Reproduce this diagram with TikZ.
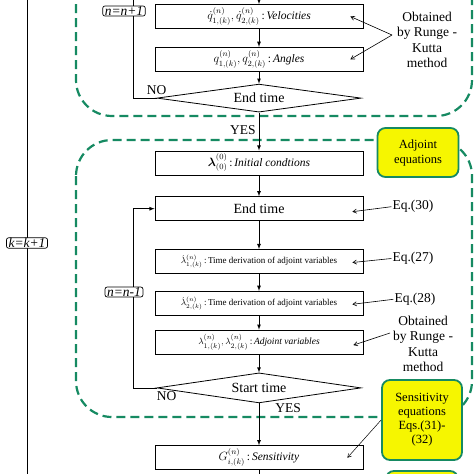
\documentclass[tikz,border=0pt]{standalone}
\usepackage{amsmath}
\usepackage{bm}
\usepackage{fontspec}
\setmainfont{Liberation Serif}
\usepackage{tikz}
\usetikzlibrary{shapes.geometric, arrows}
\usetikzlibrary{positioning}
\definecolor{phaseGreen}{RGB}{22,138,98}
\definecolor{eqYellow}{RGB}{246,246,0}
\tikzstyle{procBox} = [rectangle, minimum width=208pt, minimum height=24pt, text centered, draw=black, line width=0.8pt, inner sep=1pt, font=\fontsize{11.5}{13}\selectfont]
\tikzstyle{decision} = [diamond, aspect=7, minimum width=204pt, minimum height=28pt, text centered, draw=black, line width=0.8pt, inner sep=0pt, font=\fontsize{14}{16}\selectfont]
\tikzstyle{arrow} = [line width=0.8pt,->,>=latex]
\tikzstyle{noteArrow} = [line width=0.6pt,->,>=angle 60]
\tikzstyle{counterBox} = [
                rectangle,
                rounded corners=2pt,
                draw=black,
                fill=white,
                line width=0.7pt,
                inner xsep=2pt,
                inner ysep=0.5pt,
                font=\fontsize{13.5}{15}\selectfont\itshape
            ]
\tikzstyle{eqBox} = [rectangle, rounded corners=8pt, draw=phaseGreen, line width=1.8pt, fill=eqYellow, align=center, inner sep=2pt, font=\fontsize{12.5}{15}\selectfont]
\tikzstyle{phase} = [draw=phaseGreen, line width=2.2pt, dash pattern=on 9pt off 5pt, rounded corners=36pt]
\tikzstyle{remark} = [align=center, inner sep=1pt, font=\fontsize{13.5}{15.5}\selectfont]

\begin{document}
\begin{tikzpicture}[x=1pt, y=-1pt, node distance=20pt]
                            \useasboundingbox (0,0) rectangle (474,474);
                            \draw [phase] (76,-60) rectangle (472,116);
                            \draw [phase] (76,140) rectangle (472,417);
                            \node (vel) [procBox] at (259,16.5) {$\dot{q}^{(n)}_{1,(k)},\dot{q}^{(n)}_{2,(k)}$\,:\,\textit{Velocities}};
                            \node (ang) [procBox, below=18pt of vel] {$q^{(n)}_{1,(k)},q^{(n)}_{2,(k)}$\,:\,\textit{Angles}};
                            \node (dec1) [decision, below=12pt of ang] {End time};
                            \node (init) [procBox, below=38pt of dec1] {$\bm{\lambda}^{(0)}_{(0)}$\,:\,\textit{Initial condtions}};
                            \node (endBox) [procBox, below=21pt of init, font=\fontsize{14}{16}\selectfont] {End time};
                            \node (td1) [procBox, below=28pt of endBox, font=\fontsize{9}{11}\selectfont] {$\dot{\lambda}^{(n)}_{1,(k)}$\,:\,Time derivation of adjoint variables};
                            \node (td2) [procBox, below=17pt of td1, font=\fontsize{9}{11}\selectfont] {$\dot{\lambda}^{(n)}_{2,(k)}$\,:\,Time derivation of adjoint variables};
                            \node (adjVar) [procBox, below=14pt of td2, font=\fontsize{9.5}{11}\selectfont] {$\lambda^{(n)}_{1,(k)},\lambda^{(n)}_{2,(k)}$\,:\,\textit{Adjoint variables}};
                            \node (start) [decision, minimum height=30pt, below=18pt of adjVar] {Start time};
                            \node (sens) [procBox, below=42pt of start] {$G^{(n)}_{i,(k)}$\,:\,\textit{Sensitivity}};
                            \coordinate (topIn) at (259,-10);
                            \coordinate (botOut) at (259,484);
                            \coordinate (upLoop) at (133,-10);
                            \coordinate (kTop) at (27,-10);
                            \coordinate (kBot) at (27,484);
                            \draw [arrow] (topIn) -- (vel);
                            \draw [arrow] (vel) -- (ang);
                            \draw [arrow] (ang) -- (dec1);
                            \draw [arrow] (dec1) -- node [remark, left, xshift=-2pt, yshift=1pt] {YES} (init);
                            \draw [arrow] (init) -- (endBox);
                            \draw [arrow] (endBox) -- (td1);
                            \draw [arrow] (td1) -- (td2);
                            \draw [arrow] (td2) -- (adjVar);
                            \draw [arrow] (adjVar) -- (start);
                            \draw [arrow] (start) -- node [remark, right, pos=0.12, xshift=15pt] {YES} (sens);
                            \draw [line width=0.8pt] (sens) -- (botOut);
                            \draw [line width=0.8pt] (dec1.west) -| (upLoop);
                            \draw [arrow] (start.west) -- (start.west -| upLoop) |- (endBox.west);
                            \draw [line width=0.8pt] (kTop) -- (kBot);
                            \node (no1) [remark, anchor=south, inner sep=0pt] at ([yshift=3pt]dec1.west) {NO};
                            \node (no2) [remark, anchor=north west, inner sep=0pt] at ([yshift=-3pt]start.west) {NO};
                            \node (incN) [counterBox] at (124,11) {n=n+1};
                            \node (decN) [counterBox] at (124,292) {n=n-1};
                            \node (incK) [counterBox] at (27,243) {k=k+1};
                            \node (rk1) [remark] at (427,40) {Obtained\\by Runge -\\Kutta\\method};
                            \coordinate (rk1Tip) at (392,35);
                            \draw [noteArrow] (rk1Tip) -- ([xshift=-13pt]vel.east);
                            \draw [noteArrow] (rk1Tip) -- ([xshift=-13pt]ang.east);
                            \node (eq30) [remark, right=28pt of endBox, yshift=2pt] {Eq.(30)};
                            \node (eq27) [remark, right=28pt of td1, yshift=3pt] {Eq.(27)};
                            \node (eq28) [remark, right=30pt of td2, yshift=4pt] {Eq.(28)};
                            \draw [noteArrow] (eq30.west) -- ([xshift=-11pt,yshift=-3pt]endBox.east);
                            \draw [noteArrow] (eq27.west) -- ([xshift=-11pt,yshift=-1pt]td1.east);
                            \draw [noteArrow] (eq28.west) -- ([xshift=-11pt,yshift=-1pt]td2.east);
                            \node (rk2) [remark] at (423,344) {Obtained\\by Runge -\\Kutta\\method};
                            \coordinate (rk2Tip) at (390,333);
                            \draw [noteArrow] (rk2Tip) -- ([xshift=-10pt,yshift=-3pt]adjVar.east);
                            \node (adjEq) [eqBox, minimum width=81pt, minimum height=49pt] at (418,152.5) {Adjoint\\equations};
                            \node (sensEq) [eqBox, minimum width=80pt, minimum height=80pt, font=\fontsize{12.5}{14}\selectfont] at (422,420) {Sensitivity\\equations\\Eqs.(31)-\\(32)};
                            \draw [noteArrow, line width=0.5pt] (sensEq.west) -- ([xshift=-16pt]sens.east);
                            \draw [rounded corners=8pt, draw=phaseGreen, line width=1.8pt, fill=eqYellow] (386,471) rectangle (458,530);
                        \end{tikzpicture}
\end{document}
